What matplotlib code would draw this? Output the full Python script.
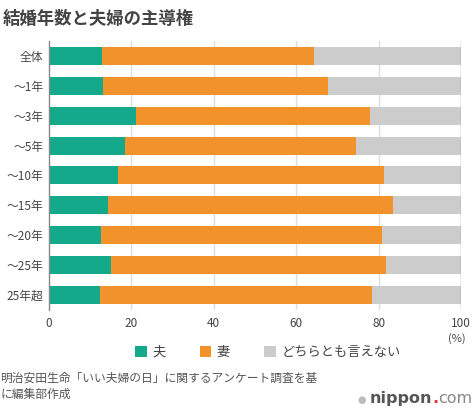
import matplotlib
matplotlib.use('Agg')
import matplotlib.pyplot as plt
from matplotlib.offsetbox import TextArea, HPacker, AnchoredOffsetbox
import numpy as np

plt.rcParams['font.family'] = ['Noto Sans CJK JP', 'DejaVu Sans']

# Data (percent)
categories = ['全体', '〜1年', '〜3年', '〜5年', '〜10年', '〜15年', '〜20年', '〜25年', '25年超']
husband = [12.9, 13.1, 21.0, 18.5, 16.8, 14.2, 12.7, 15.0, 12.3]
wife = [51.5, 54.6, 56.8, 56.1, 64.4, 69.3, 68.2, 66.7, 66.2]
neither = [35.6, 32.3, 22.2, 25.4, 18.8, 16.5, 19.1, 18.3, 21.5]
series_labels = ['夫', '妻', 'どちらとも言えない']
x_ticks = [0, 20, 40, 60, 80, 100]

colors = ['#13a98a', '#f2922a', '#cccccc']
text_color = '#444444'

fig = plt.figure(figsize=(4.74, 4.12), dpi=100)
ax = fig.add_axes([0.1034, 0.248, 0.8692, 0.6525])

y = np.arange(len(categories))
left = np.zeros(len(categories))
handles = []
for vals, col, lab in zip([husband, wife, neither], colors, series_labels):
    h = ax.barh(y, vals, left=left, height=0.6, color=col, label=lab, zorder=3)
    handles.append(h)
    left = left + np.array(vals)

ax.set_ylim(len(categories) - 0.5, -0.5)
ax.set_xlim(0, 100)
ax.set_yticks(y)
ax.set_yticklabels(categories, fontsize=8.5, color=text_color)
ax.set_xticks(x_ticks)
ax.set_xticklabels([str(t) for t in x_ticks], fontsize=8.5, color=text_color)
ax.tick_params(axis='both', length=0, pad=4)
ax.tick_params(axis='x', pad=5)

for t in [20, 40, 60, 80]:
    ax.axvline(t, color='#dddddd', lw=1, zorder=1)
ax.axvline(100, color='#999999', lw=1, zorder=4)

for s in ['top', 'bottom', 'right']:
    ax.spines[s].set_visible(False)
ax.spines['left'].set_color('#888888')
ax.spines['left'].set_linewidth(1)
ax.spines['left'].set_zorder(5)

ax.text(99, -0.085, '(%)', transform=ax.get_xaxis_transform(), ha='center', va='top',
        fontsize=8, color=text_color)

fig.text(0.006, 0.975, '結婚年数と夫婦の主導権', fontsize=12.5, fontweight='bold',
         color=text_color, ha='left', va='top')

leg = fig.legend(handles=handles, labels=series_labels, loc='center',
                 bbox_to_anchor=(0.565, 0.145), ncol=3, frameon=False,
                 fontsize=9.5, handlelength=0.9, handleheight=0.9,
                 handletextpad=0.4, columnspacing=2.6)
for t in leg.get_texts():
    t.set_color(text_color)

fig.text(0.0, 0.063, '明治安田生命「いい夫婦の日」に関するアンケート調査を基\nに編集部作成',
         fontsize=8.5, color='#555555', ha='left', va='center', linespacing=1.35)

# nippon.com logo
parts = [
    TextArea('● ', textprops=dict(color='#bbbbbb', fontsize=7, family='DejaVu Sans')),
    TextArea('nippon', textprops=dict(color='#555555', fontsize=11.5, fontweight='bold', family='DejaVu Sans')),
    TextArea('.', textprops=dict(color='#e03a3a', fontsize=11.5, fontweight='bold', family='DejaVu Sans')),
    TextArea('com', textprops=dict(color='#888888', fontsize=11.5, family='DejaVu Sans')),
]
pack = HPacker(children=parts, align='baseline', pad=0, sep=0)
logo = AnchoredOffsetbox(loc='lower right', child=pack, frameon=False,
                         bbox_to_anchor=(1.0, 0.012), bbox_transform=fig.transFigure,
                         borderpad=0, pad=0.1)
fig.add_artist(logo)

fig.savefig('out.png', dpi=100)
